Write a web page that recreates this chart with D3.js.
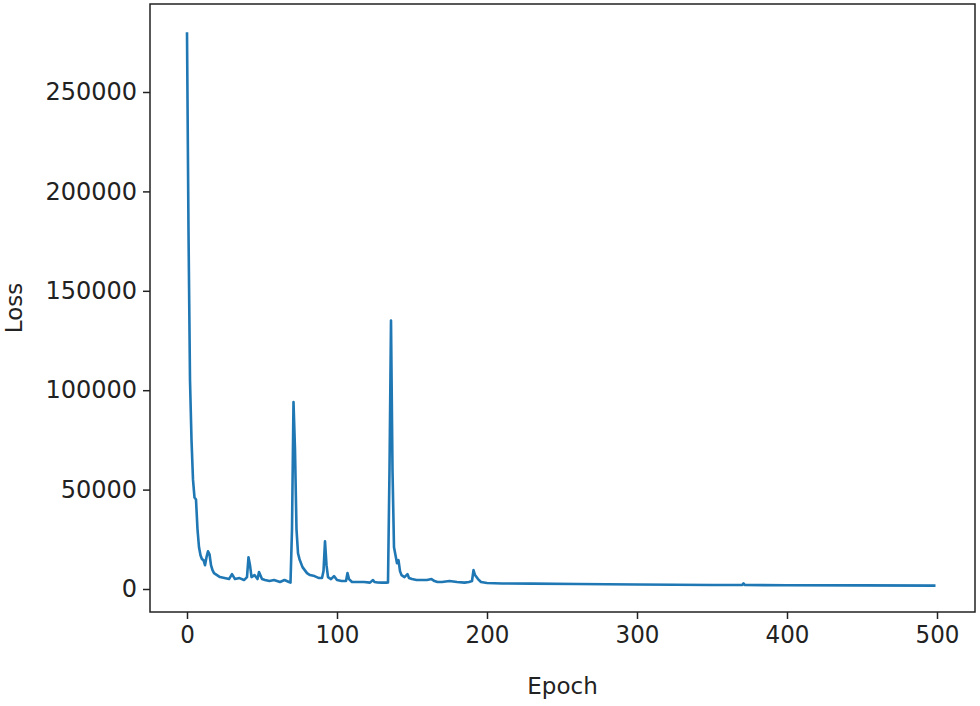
<!DOCTYPE html>
<html><head><meta charset="utf-8">
<script src="https://cdn.jsdelivr.net/npm/d3@7"></script>
<style>body{margin:0;background:#fff}</style>
</head><body>
<svg id="c" width="980" height="706"></svg>
<script>
const epochs = [0,1,2,3,4,5,6,7,8,9,10,11,12,13,14,15,16,17,18,20,22,25,28,30,32,35,38,40,41,42,43,45,47,48,50,52,55,58,60,62,65,68,69,70,71,72,73,74,75,77,79,80,82,85,88,90,91,92,93,94,96,98,100,103,106,107,108,110,114,118,122,124,125,127,130,133,134,135,136,137,138,140,141,142,143,145,147,148,150,153,156,160,163,165,167,170,175,180,185,188,190,191,192,194,196,200,210,230,260,300,350,370,371,372,400,450,499];
const losses = [280000,180000,105000,75000,55000,46000,45000,30000,21000,17000,15000,14500,12000,16000,19000,17500,12000,9500,8000,7000,6000,5500,5000,7500,5000,5500,4500,6000,16000,12000,6000,7000,5000,8500,5000,4500,4000,4500,4000,3500,4500,3500,3200,30000,94000,70000,30000,18000,15000,11000,9000,8000,7000,6500,5500,5500,9000,24000,12000,6000,5000,6500,4500,4000,4000,8000,5000,3500,3500,3500,3200,4500,3500,3300,3200,3200,3300,60000,135000,60000,21000,13000,14500,9000,7000,6000,7500,5500,5000,4500,4500,4500,5000,4000,3500,3500,4000,3500,3200,3500,4000,9500,7000,5000,3500,3000,2800,2700,2500,2300,2000,2000,2800,2000,1900,1800,1700];
const xTicks = [0,100,200,300,400,500];
const yTicks = [0,50000,100000,150000,200000,250000];

const svg = d3.select("#c");
const L=150,R=975,T=4,B=612;
const x = d3.scaleLinear().domain([0,500]).range([187,937]);
const y = d3.scaleLinear().domain([0,250000]).range([589,92]);
const font = "'DejaVu Sans', sans-serif";

svg.append("path").datum(epochs.map((e,i)=>[e,losses[i]]))
  .attr("fill","none").attr("stroke","#1f77b4").attr("stroke-width",2.6)
  .attr("stroke-linejoin","round")
  .attr("d", d3.line().x(d=>x(d[0])).y(d=>y(d[1])));

svg.append("rect").attr("x",L).attr("y",T).attr("width",R-L).attr("height",B-T)
  .attr("fill","none").attr("stroke","#222").attr("stroke-width",1.5);

const xa = svg.append("g").attr("transform",`translate(0,${B})`)
  .call(d3.axisBottom(x).tickValues(xTicks).tickSize(7).tickPadding(5).tickFormat(d3.format("d")));
const ya = svg.append("g").attr("transform",`translate(${L},0)`)
  .call(d3.axisLeft(y).tickValues(yTicks).tickSize(7).tickPadding(6).tickFormat(d3.format("d")));
[xa,ya].forEach(a=>{a.select(".domain").remove();
  a.selectAll("line").attr("stroke","#222").attr("stroke-width",1.5);
  a.selectAll("text").attr("fill","#222").style("font-family",font).style("font-size","23px")
   .attr("transform","scale(1,1.08)");});
ya.selectAll(".tick text").attr("transform",null).style("font-size","24px");

svg.append("text").attr("x",(L+R)/2).attr("y",694).attr("text-anchor","middle")
  .style("font-family",font).style("font-size","23px").attr("fill","#222").text("Epoch");
svg.append("text").attr("transform","translate(22,308) rotate(-90)").attr("text-anchor","middle")
  .style("font-family",font).style("font-size","23px").attr("fill","#222").text("Loss");
</script></body></html>
